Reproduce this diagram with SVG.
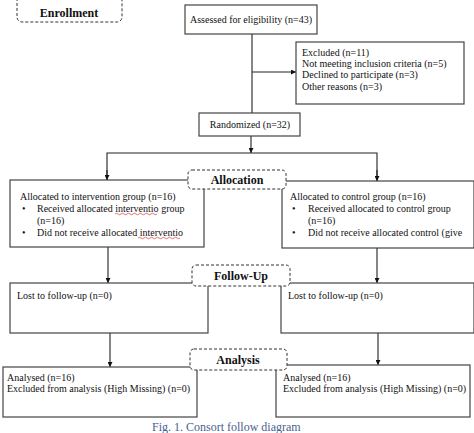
<svg xmlns="http://www.w3.org/2000/svg" width="474" height="433" viewBox="0 0 474 433">
<defs>
<marker id="ah" viewBox="0 0 10 10" refX="10" refY="5" markerWidth="5" markerHeight="5" orient="auto" markerUnits="userSpaceOnUse">
<path d="M0,0 L10,5 L0,10 z" fill="#111"/>
</marker>
<style>
.box{fill:#fff;stroke:#444;stroke-width:1.2}
.lbl{fill:#fff;stroke:#333;stroke-width:1;stroke-dasharray:3,2}
.t{font-family:"Liberation Serif","Times New Roman",serif;font-size:10px;fill:#111}
.b{font-family:"Liberation Serif","Times New Roman",serif;font-size:12px;font-weight:bold;fill:#111;text-anchor:middle}
.c{fill:none;stroke:#222;stroke-width:1.1}
.sq{fill:none;stroke:#d33;stroke-width:0.7}
</style>
</defs>
<rect width="474" height="433" fill="#fff"/>

<g id="connectors">
<line class="c" x1="252" y1="34" x2="252" y2="113"/>
<line class="c" x1="252" y1="72" x2="296" y2="72" marker-end="url(#ah)"/>
<line class="c" x1="251" y1="136" x2="251" y2="153" marker-end="url(#ah)"/>
<polyline class="c" points="107,180 107,153 377,153 377,181"/>
<line class="c" x1="107" y1="170" x2="107" y2="180" marker-end="url(#ah)"/>
<line class="c" x1="377" y1="170" x2="377" y2="181" marker-end="url(#ah)"/>
<line class="c" x1="108" y1="247" x2="108" y2="283" marker-end="url(#ah)"/>
<line class="c" x1="377" y1="248" x2="377" y2="283" marker-end="url(#ah)"/>
<line class="c" x1="110" y1="333" x2="110" y2="367" marker-end="url(#ah)"/>
<line class="c" x1="378" y1="333" x2="378" y2="365" marker-end="url(#ah)"/>
</g>

<g id="assessed">
<rect class="box" x="185" y="5" width="132" height="29"/>
<text class="t" x="251" y="23" text-anchor="middle">Assessed for eligibility (n=43)</text>
</g>

<g id="excluded">
<rect class="box" x="296" y="42" width="168" height="62"/>
<text class="t" x="302" y="56">Excluded (n=11)</text>
<text class="t" x="302" y="67">Not meeting inclusion criteria (n=5)</text>
<text class="t" x="302" y="78">Declined to participate (n=3)</text>
<text class="t" x="302" y="90">Other reasons (n=3)</text>
</g>

<g id="randomized">
<rect class="box" x="199" y="113" width="101" height="23"/>
<text class="t" x="250" y="128" text-anchor="middle">Randomized (n=32)</text>
</g>

<g id="intervention">
<rect class="box" x="10" y="180" width="194" height="67"/>
<text class="t" x="20" y="200">Allocated to intervention group (n=16)</text>
<text class="t" x="22" y="212">•</text>
<text class="t" x="37" y="212">Received allocated <tspan id="sq1">interventio</tspan> group</text>
<text class="t" x="37" y="224">(n=16)</text>
<text class="t" x="22" y="236">•</text>
<text class="t" x="37" y="236">Did not receive allocated interventio</text>
<path class="sq" d="M115,214 q1.5,-1.5 3,0 t3,0 t3,0 t3,0 t3,0 t3,0 t3,0 t3,0 t3,0 t3,0 t3,0 t3,0 t3,0 t3,0"/>
<path class="sq" d="M138,238 q1.5,-1.5 3,0 t3,0 t3,0 t3,0 t3,0 t3,0 t3,0 t3,0 t3,0 t3,0 t3,0 t3,0 t3,0 t3,0"/>
</g>

<g id="control">
<rect class="box" x="282" y="181" width="192" height="67"/>
<text class="t" x="290" y="200">Allocated to control group (n=16)</text>
<text class="t" x="292" y="212">•</text>
<text class="t" x="308" y="212">Received allocated to control group</text>
<text class="t" x="308" y="224">(n=16)</text>
<text class="t" x="292" y="236">•</text>
<text class="t" x="308" y="236">Did not receive allocated control (give</text>
</g>

<g id="followup-left">
<rect class="box" x="10" y="283" width="198" height="50"/>
<text class="t" x="17" y="299">Lost to follow-up (n=0)</text>
</g>

<g id="followup-right">
<rect class="box" x="281" y="283" width="193" height="50"/>
<text class="t" x="288" y="299">Lost to follow-up (n=0)</text>
</g>

<g id="analysis-left">
<rect class="box" x="3" y="367" width="194" height="50"/>
<text class="t" x="7" y="381">Analysed (n=16)</text>
<text class="t" x="7" y="392">Excluded from analysis (High Missing) (n=0)</text>
</g>

<g id="analysis-right">
<rect class="box" x="276" y="365" width="194" height="52"/>
<text class="t" x="283" y="381">Analysed (n=16)</text>
<text class="t" x="283" y="392">Excluded from analysis (High Missing) (n=0)</text>
</g>

<g id="enrollment-label">
<rect class="lbl" x="17" y="-4" width="105" height="26" rx="5"/>
<text class="b" x="69" y="17">Enrollment</text>
</g>

<g id="allocation-label">
<rect class="lbl" x="188" y="170" width="98" height="19" rx="4"/>
<text class="b" x="237" y="184">Allocation</text>
</g>

<g id="followup-label">
<rect class="lbl" x="192" y="265" width="98" height="21" rx="4"/>
<text class="b" x="241" y="280">Follow-Up</text>
</g>

<g id="analysis-label">
<rect class="lbl" x="190" y="349" width="97" height="21" rx="4"/>
<text class="b" x="238" y="364">Analysis</text>
</g>

<g id="caption">
<text x="152" y="431" font-family="Liberation Serif,'Times New Roman',serif" font-size="12" fill="#4a5f8f">Fig. 1. Consort follow diagram</text>
</g>
</svg>
